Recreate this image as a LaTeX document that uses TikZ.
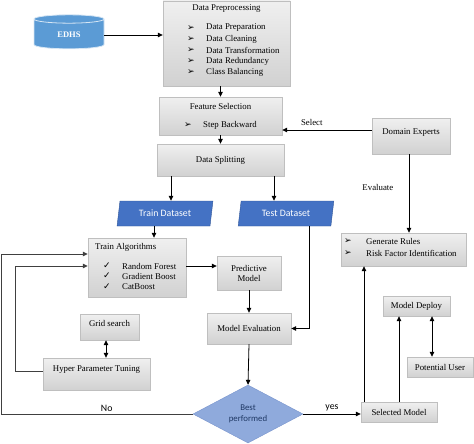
\documentclass[tikz,border=0pt]{standalone}
\usepackage{fontspec}
\setmainfont{Liberation Serif}
\newfontfamily\calfont{Carlito}
\newfontfamily\symfont{DejaVu Sans}
\usetikzlibrary{arrows.meta,shapes.geometric}
\definecolor{dbblue}{RGB}{91,155,213}
\definecolor{setblue}{RGB}{68,114,196}
\definecolor{setedge}{RGB}{47,85,151}
\definecolor{decfill}{RGB}{143,170,220}
\definecolor{decedge}{RGB}{120,148,205}
\definecolor{navy}{RGB}{31,56,100}

\tikzset{
  greybox/.style 2 args={rectangle, draw=gray!50, top color=gray!12, bottom color=gray!36,
    minimum width=#1pt, minimum height=#2pt, inner sep=0pt},
  item/.style={anchor=west, inner sep=0pt},
  bull/.style={inner sep=0pt, font=\symfont\fontsize{9}{9}\selectfont},
  dataset/.style={trapezium, trapezium left angle=76, trapezium right angle=104,
    trapezium stretches=true, fill=setblue, draw=setedge, text=white,
    minimum width=96pt, minimum height=25pt, inner sep=0pt,
    font=\calfont\fontsize{9.8}{11}\selectfont},
  arr/.style={-{Triangle[length=5pt,width=4.5pt]}, line width=0.8pt},
  darr/.style={{Triangle[length=5pt,width=4.5pt]}-{Triangle[length=5pt,width=4.5pt]}, line width=0.8pt},
  fb/.style={arr, draw=black!75, line width=1pt}
}

\begin{document}
\begin{tikzpicture}[x=1pt, y=-1pt, font=\fontsize{8.8}{10}\selectfont]

        \useasboundingbox (0,0) rectangle (474,444);

        % Source
        \node[cylinder, shape border rotate=90, aspect=0.28, minimum width=70pt, minimum height=34pt,
              fill=dbblue, draw=white!75!dbblue, line width=0.8pt, text=white,
              font=\bfseries\fontsize{8.5}{9}\selectfont] (edhs) at (69,35) {EDHS};

        % Preprocessing
        \node[greybox={127}{85}] (prep) at (226.5,43.5) {};
        \node (prepT) at (226.5,9) {Data Preprocessing};
        \foreach \y/\t [count=\i] in {28/Data Preparation,39/Data Cleaning,50/Data Transformation,
                                      61/Data Redundancy,72/Class Balancing}
        {
            \node[bull] (pb\i) at (191,\y) {➢};
            \node[item] (pi\i) at (206,\y) {\t};
        }

        % Feature selection and splitting
        \node[greybox={123}{38}] (feat) at (220.5,116) {};
        \node (featT) at (220.5,106) {Feature Selection};
        \node[bull] (fb1) at (188,125) {➢};
        \node[item] (fi1) at (203,125) {Step Backward};
        \node[greybox={127}{32}] (split) at (220.5,160) {Data Splitting};
        \node[greybox={78}{36}] (dom) at (411,136) {};
        \node (domT) at (411,133) {Domain Experts};

        % Datasets
        \node[dataset] (train) at (165,213.5) {Train Dataset};
        \node[dataset] (test) at (286,213.5) {Test Dataset};

        % Training
        \node[greybox={98}{59}] (algo) at (137,267.5) {};
        \node[item] (algoT) at (95,247) {Train Algorithms};
        \foreach \y/\t [count=\i] in {266/Random Forest,276/Gradient Boost,287/CatBoost}
        {
            \node[bull] (ab\i) at (107,\y) {✓};
            \node[item] (ai\i) at (122,\y) {\t};
        }
        \node[greybox={64}{34}, align=center] (pred) at (249,273) {Predictive\\Model};
        \node[greybox={84}{31}] (eval) at (249,328.5) {Model Evaluation};
        \node[greybox={59}{26}] (grid) at (109.5,327) {};
        \node (gridT) at (109.5,323) {Grid search};
        \node[greybox={107}{32}] (hpt) at (96.5,374) {};
        \node (hptT) at (96.5,370) {Hyper Parameter Tuning};

        % Decision
        \node[diamond, minimum width=110pt, minimum height=58pt, inner sep=0pt, fill=decfill,
              draw=decedge, text=navy, align=center, font=\calfont\fontsize{8.8}{10.5}\selectfont]
              (best) at (248,414) {Best\\performed};

        % Results
        \node[greybox={125}{33}] (rules) at (403.5,249.5) {};
        \foreach \y/\t [count=\i] in {241/Generate Rules,253/Risk Factor Identification}
        {
            \node[bull] (rb\i) at (348,\y) {➢};
            \node[item] (ri\i) at (366,\y) {\t};
        }
        \node[greybox={76}{20}] (sel) at (399,412) {Selected Model};
        \node[greybox={67}{20}] (deploy) at (416.5,306) {Model Deploy};
        \node[greybox={66}{20}] (user) at (440,367) {Potential User};

        % Main flow
        \draw[arr] (edhs.east) -- (edhs.east -| prep.west);
        \draw[arr] (feat.north |- prep.south) -- (feat.north);
        \draw[arr] (feat.south) -- (split.north);
        \draw[arr] ([yshift=6pt]dom.west) -- node[pos=0.67, above=1pt] {Select} ([yshift=6pt]dom.west -| feat.east);
        \draw[arr] ([xshift=6pt]train.north |- split.south) -- ([xshift=6pt]train.north);
        \draw[arr] ([xshift=-12pt]test.north |- split.south) -- ([xshift=-12pt]test.north);
        \draw[arr] ([xshift=-11pt]train.south) -- ([xshift=-11pt]train.south |- algo.north);
        \draw[arr] ([yshift=1.5pt]algo.east) -- ([yshift=1.5pt]algo.east -| pred.west);
        \draw[arr] (pred.south) -- (eval.north);
        \draw[arr] ([xshift=23pt]test.south) |- (eval.east);
        \draw[arr] (eval.south) -- (best.north);
        \draw[arr] (best.east) -- node[above=-1pt, font=\calfont\fontsize{9.8}{11}\selectfont] {yes} (best.east -| sel.west);

        % Evaluation and deployment
        \draw[arr] ([xshift=-2pt]dom.south) -- node[pos=0.42, left=12pt] {Evaluate} ([xshift=-2pt]dom.south |- rules.north);
        \draw[arr] ([xshift=-35pt]sel.north) -- ([xshift=-35pt]sel.north |- rules.south);
        \draw[arr] (sel.north) -- (sel.north |- deploy.south);
        \draw[darr] ([xshift=-8pt]user.north) -- ([xshift=-8pt]user.north |- deploy.south);
        \draw[darr] ([xshift=-3.5pt]grid.south) -- ([xshift=-3.5pt]grid.south |- hpt.north);

        % Feedback loops
        \coordinate (noX) at (1.5,0);
        \coordinate (hpX) at (15,0);
        \draw[fb] (best.west) -- node[pos=0.45, above=-1pt, font=\calfont\fontsize{9.8}{11}\selectfont, text=black] {No}
              (best.west -| noX) |- ([yshift=13.5pt]algo.west);
        \draw[fb] ([yshift=3pt]hpt.west) -- ([yshift=3pt]hpt.west -| hpX) |- ([yshift=1.5pt]algo.west);

    \end{tikzpicture}
\end{document}
